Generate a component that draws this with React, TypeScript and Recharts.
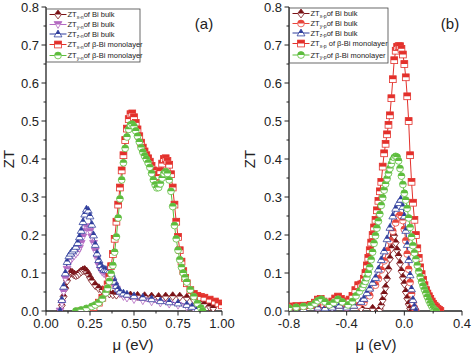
import React from 'react'
import { LineChart, Line, XAxis, YAxis } from 'recharts'

// ---- panel (a): n-type, mu > 0 ----
const aXnBulk: [number, number][] = [
  [0.08, 0], [0.09, 0.015], [0.1, 0.038], [0.11, 0.06], [0.12, 0.08], [0.13, 0.095], [0.14, 0.102],
  [0.15, 0.1], [0.16, 0.096], [0.17, 0.094], [0.18, 0.096], [0.19, 0.1], [0.2, 0.104], [0.21, 0.107],
  [0.22, 0.108], [0.23, 0.104], [0.24, 0.097], [0.25, 0.088], [0.26, 0.08], [0.28, 0.068], [0.3, 0.06],
  [0.32, 0.055], [0.34, 0.049], [0.36, 0.046], [0.38, 0.044], [0.4, 0.043], [0.44, 0.042], [0.48, 0.041],
  [0.52, 0.04], [0.56, 0.039], [0.6, 0.038], [0.64, 0.037], [0.68, 0.038], [0.72, 0.039], [0.76, 0.038],
  [0.8, 0.035], [0.84, 0.03], [0.87, 0.024], [0.9, 0.018], [0.93, 0.012], [0.95, 0.008],
]
const aYnBulk: [number, number][] = [
  [0.08, 0], [0.09, 0.02], [0.1, 0.05], [0.11, 0.085], [0.12, 0.11], [0.13, 0.125], [0.14, 0.135],
  [0.15, 0.14], [0.16, 0.145], [0.17, 0.15], [0.18, 0.155], [0.19, 0.165], [0.2, 0.178], [0.21, 0.195],
  [0.22, 0.21], [0.23, 0.222], [0.24, 0.22], [0.25, 0.21], [0.26, 0.195], [0.27, 0.178], [0.28, 0.158],
  [0.29, 0.138], [0.3, 0.12], [0.31, 0.108], [0.32, 0.102], [0.33, 0.098], [0.34, 0.095], [0.35, 0.092],
  [0.36, 0.088], [0.37, 0.082], [0.38, 0.074], [0.39, 0.066], [0.4, 0.058], [0.42, 0.045], [0.44, 0.038],
  [0.46, 0.034], [0.5, 0.03], [0.55, 0.027], [0.6, 0.024], [0.65, 0.021], [0.7, 0.018], [0.75, 0.015],
  [0.8, 0.011], [0.84, 0.006], [0.87, 0],
]
const aZnBulk: [number, number][] = [
  [0.08, 0], [0.09, 0.03], [0.1, 0.065], [0.11, 0.1], [0.12, 0.13], [0.13, 0.145], [0.14, 0.152],
  [0.15, 0.158], [0.16, 0.163], [0.17, 0.17], [0.18, 0.18], [0.19, 0.195], [0.2, 0.212], [0.21, 0.235],
  [0.22, 0.255], [0.23, 0.268], [0.24, 0.265], [0.25, 0.25], [0.26, 0.228], [0.27, 0.2], [0.28, 0.175],
  [0.29, 0.152], [0.3, 0.135], [0.31, 0.122], [0.32, 0.114], [0.33, 0.11], [0.34, 0.109], [0.35, 0.108],
  [0.36, 0.106], [0.37, 0.1], [0.38, 0.09], [0.39, 0.078], [0.4, 0.067], [0.41, 0.058], [0.42, 0.052],
  [0.44, 0.047], [0.46, 0.044], [0.5, 0.04], [0.55, 0.036], [0.6, 0.032], [0.65, 0.027], [0.7, 0.024],
  [0.75, 0.021], [0.8, 0.017], [0.83, 0.012], [0.86, 0.005], [0.88, 0],
]
const aXnMono: [number, number][] = [
  [0.2, 0], [0.24, 0.004], [0.27, 0.01], [0.3, 0.022], [0.32, 0.035], [0.34, 0.055], [0.35, 0.07],
  [0.36, 0.09], [0.37, 0.118], [0.38, 0.15], [0.39, 0.19], [0.4, 0.235], [0.41, 0.28], [0.42, 0.325],
  [0.43, 0.37], [0.44, 0.41], [0.45, 0.45], [0.46, 0.48], [0.47, 0.505], [0.48, 0.518], [0.49, 0.52],
  [0.5, 0.51], [0.51, 0.495], [0.52, 0.478], [0.53, 0.46], [0.54, 0.443], [0.55, 0.43], [0.56, 0.42],
  [0.57, 0.41], [0.58, 0.402], [0.59, 0.393], [0.6, 0.382], [0.61, 0.37], [0.62, 0.358], [0.63, 0.352],
  [0.64, 0.355], [0.65, 0.368], [0.66, 0.388], [0.67, 0.4], [0.68, 0.402], [0.69, 0.395], [0.7, 0.385],
  [0.71, 0.36], [0.72, 0.325], [0.73, 0.28], [0.74, 0.235], [0.75, 0.195], [0.76, 0.16], [0.77, 0.13],
  [0.78, 0.105], [0.79, 0.087], [0.8, 0.073], [0.82, 0.055], [0.84, 0.045], [0.86, 0.04], [0.88, 0.037],
  [0.9, 0.035], [0.93, 0.03], [0.96, 0.025], [0.98, 0.02], [1.0, 0.015],
]
const aYnMono: [number, number][] = [
  [0.17, 0], [0.2, 0.003], [0.23, 0.007], [0.26, 0.012], [0.28, 0.016], [0.3, 0.022], [0.32, 0.032],
  [0.34, 0.048], [0.35, 0.06], [0.36, 0.078], [0.37, 0.098], [0.38, 0.12], [0.39, 0.155], [0.4, 0.195],
  [0.41, 0.245], [0.42, 0.295], [0.43, 0.345], [0.44, 0.39], [0.45, 0.428], [0.46, 0.458], [0.47, 0.478],
  [0.48, 0.49], [0.49, 0.492], [0.5, 0.486], [0.51, 0.474], [0.52, 0.46], [0.53, 0.445], [0.54, 0.43],
  [0.55, 0.418], [0.56, 0.408], [0.57, 0.4], [0.58, 0.39], [0.59, 0.378], [0.6, 0.362], [0.61, 0.345],
  [0.62, 0.332], [0.63, 0.324], [0.64, 0.325], [0.65, 0.335], [0.66, 0.35], [0.67, 0.362], [0.68, 0.367],
  [0.69, 0.362], [0.7, 0.345], [0.71, 0.315], [0.72, 0.275], [0.73, 0.225], [0.74, 0.19], [0.75, 0.16],
  [0.76, 0.135], [0.77, 0.115], [0.78, 0.1], [0.79, 0.088], [0.8, 0.076], [0.82, 0.056], [0.84, 0.038],
  [0.86, 0.02], [0.88, 0.008], [0.89, 0],
]

// ---- panel (b): p-type, mu < 0 ----
const bXpBulk: [number, number][] = [
  [-0.8, 0.006], [-0.7, 0.007], [-0.6, 0.009], [-0.5, 0.008], [-0.4, 0.008], [-0.3, 0.008], [-0.22, 0.006],
  [-0.17, 0.005], [-0.16, 0.015], [-0.15, 0.029], [-0.14, 0.045], [-0.13, 0.062], [-0.12, 0.085],
  [-0.11, 0.11], [-0.1, 0.138], [-0.09, 0.165], [-0.08, 0.192], [-0.075, 0.2], [-0.07, 0.198],
  [-0.06, 0.18], [-0.05, 0.16], [-0.04, 0.145], [-0.03, 0.125], [-0.02, 0.105], [-0.01, 0.088],
  [0.0, 0.072], [0.01, 0.05], [0.02, 0.033], [0.03, 0.018], [0.04, 0.007], [0.05, 0],
]
const bYpBulk: [number, number][] = [
  [-0.8, 0.004], [-0.6, 0.008], [-0.4, 0.009], [-0.32, 0.014], [-0.28, 0.022], [-0.24, 0.04],
  [-0.2, 0.068], [-0.18, 0.085], [-0.16, 0.108], [-0.14, 0.132], [-0.12, 0.158], [-0.1, 0.185],
  [-0.08, 0.21], [-0.06, 0.232], [-0.04, 0.248], [-0.03, 0.252], [-0.02, 0.25], [-0.01, 0.238],
  [0.0, 0.215], [0.01, 0.185], [0.02, 0.15], [0.03, 0.11], [0.04, 0.075], [0.05, 0.045], [0.06, 0.022],
  [0.07, 0.008], [0.08, 0],
]
const bZpBulk: [number, number][] = [
  [-0.8, 0.005], [-0.7, 0.006], [-0.6, 0.01], [-0.55, 0.008], [-0.5, 0.01], [-0.45, 0.015], [-0.4, 0.01],
  [-0.35, 0.015], [-0.3, 0.025], [-0.28, 0.033], [-0.26, 0.048], [-0.24, 0.06], [-0.22, 0.075],
  [-0.2, 0.088], [-0.18, 0.11], [-0.16, 0.135], [-0.14, 0.158], [-0.12, 0.19], [-0.1, 0.22],
  [-0.08, 0.25], [-0.06, 0.27], [-0.04, 0.285], [-0.025, 0.294], [-0.01, 0.275], [0.0, 0.25],
  [0.01, 0.212], [0.02, 0.175], [0.03, 0.135], [0.04, 0.095], [0.05, 0.058], [0.06, 0.03], [0.07, 0.012],
  [0.08, 0],
]
const bXpMono: [number, number][] = [
  [-0.8, 0.012], [-0.75, 0.013], [-0.7, 0.014], [-0.65, 0.016], [-0.62, 0.022], [-0.6, 0.03], [-0.58, 0.032],
  [-0.56, 0.025], [-0.53, 0.02], [-0.5, 0.025], [-0.48, 0.033], [-0.46, 0.038], [-0.44, 0.032],
  [-0.42, 0.025], [-0.4, 0.025], [-0.38, 0.03], [-0.36, 0.04], [-0.34, 0.055], [-0.32, 0.068],
  [-0.3, 0.07], [-0.29, 0.072], [-0.28, 0.085], [-0.27, 0.1], [-0.26, 0.12], [-0.25, 0.14], [-0.24, 0.16],
  [-0.23, 0.18], [-0.22, 0.2], [-0.21, 0.22], [-0.2, 0.24], [-0.19, 0.265], [-0.18, 0.29], [-0.17, 0.315],
  [-0.16, 0.34], [-0.15, 0.38], [-0.14, 0.415], [-0.13, 0.44], [-0.12, 0.465], [-0.11, 0.49],
  [-0.1, 0.515], [-0.09, 0.56], [-0.08, 0.61], [-0.07, 0.66], [-0.06, 0.685], [-0.05, 0.695],
  [-0.04, 0.697], [-0.03, 0.697], [-0.02, 0.69], [-0.01, 0.675], [0.0, 0.65], [0.01, 0.615],
  [0.02, 0.565], [0.03, 0.5], [0.04, 0.41], [0.05, 0.34], [0.06, 0.285], [0.07, 0.24], [0.08, 0.2],
  [0.09, 0.165], [0.1, 0.14], [0.11, 0.115], [0.12, 0.097], [0.13, 0.082], [0.14, 0.068], [0.15, 0.055],
  [0.16, 0.046], [0.17, 0.039], [0.18, 0.032], [0.19, 0.025], [0.2, 0.019], [0.21, 0.014], [0.22, 0.01],
  [0.23, 0.006], [0.24, 0.003], [0.25, 0],
]
const bYpMono: [number, number][] = [
  [-0.8, 0.008], [-0.75, 0.01], [-0.7, 0.012], [-0.65, 0.014], [-0.62, 0.02], [-0.6, 0.027], [-0.575, 0.031],
  [-0.55, 0.024], [-0.52, 0.016], [-0.49, 0.022], [-0.46, 0.031], [-0.43, 0.024], [-0.39, 0.016],
  [-0.36, 0.025], [-0.335, 0.04], [-0.31, 0.052], [-0.29, 0.062], [-0.28, 0.07], [-0.27, 0.078],
  [-0.26, 0.088], [-0.25, 0.1], [-0.24, 0.115], [-0.23, 0.135], [-0.22, 0.155], [-0.21, 0.178],
  [-0.2, 0.198], [-0.19, 0.218], [-0.18, 0.236], [-0.17, 0.255], [-0.16, 0.278], [-0.15, 0.298],
  [-0.14, 0.318], [-0.13, 0.334], [-0.12, 0.348], [-0.11, 0.362], [-0.1, 0.375], [-0.09, 0.387],
  [-0.08, 0.397], [-0.07, 0.404], [-0.06, 0.407], [-0.05, 0.405], [-0.04, 0.395], [-0.03, 0.375],
  [-0.02, 0.355], [-0.01, 0.333], [0.0, 0.31], [0.01, 0.292], [0.02, 0.27], [0.03, 0.245], [0.04, 0.22],
  [0.05, 0.195], [0.06, 0.172], [0.07, 0.153], [0.08, 0.136], [0.09, 0.12], [0.1, 0.104], [0.11, 0.09],
  [0.12, 0.077], [0.13, 0.066], [0.14, 0.056], [0.15, 0.047], [0.16, 0.037], [0.17, 0.028], [0.18, 0.02],
  [0.19, 0.013], [0.2, 0.007], [0.21, 0.003], [0.22, 0],
]

// ---- axes ----
const yTicks = [0, 0.05, 0.1, 0.15, 0.2, 0.25, 0.3, 0.35, 0.4, 0.45, 0.5, 0.55, 0.6, 0.65, 0.7, 0.75, 0.8]
const yLabelTicks = [0, 0.1, 0.2, 0.3, 0.4, 0.5, 0.6, 0.7, 0.8]
const xTicksA = [0, 0.125, 0.25, 0.375, 0.5, 0.625, 0.75, 0.875, 1]
const xLabelTicksA = [0, 0.25, 0.5, 0.75, 1]
const xTicksB = [-0.8, -0.6, -0.4, -0.2, 0, 0.2, 0.4]
const xLabelTicksB = [-0.8, -0.4, 0, 0.4]

const legendSubsA = ['x-n', 'y-n', 'z-n', 'x-n', 'y-n']
const legendSubsB = ['x-p', 'y-p', 'z-p', 'x-p', 'y-p']
const legendTailsA = ['of Bi bulk', 'of Bi bulk', 'of Bi bulk', 'of \u03b2-Bi monolayer', 'of \u03b2-Bi monolayer']
const legendTailsB = ['of Bi bulk', 'of Bi bulk', 'of Bi bulk', ' of \u03b2-Bi monolayer', 'of \u03b2-Bi monolayer']

const FONT = '"Liberation Sans", Arial, sans-serif'
const INK = '#222'

const C = {
  darkRed: '#7a1216',
  violet: '#b46bc2',
  blue: '#2e3d9c',
  red: '#e3302b',
  redCircle: '#e8453c',
  green: '#5dbd3d',
}

type Shape = 'diamond' | 'tdown' | 'tup' | 'square' | 'circle'
type Series = { data: [number, number][]; color: string; shape: Shape }

const seriesA: Series[] = [
  { data: aXnBulk, color: C.darkRed, shape: 'diamond' },
  { data: aYnBulk, color: C.violet, shape: 'tdown' },
  { data: aZnBulk, color: C.blue, shape: 'tup' },
  { data: aXnMono, color: C.red, shape: 'square' },
  { data: aYnMono, color: C.green, shape: 'circle' },
]
const seriesB: Series[] = [
  { data: bXpBulk, color: C.darkRed, shape: 'diamond' },
  { data: bYpBulk, color: C.redCircle, shape: 'circle' },
  { data: bZpBulk, color: C.blue, shape: 'tup' },
  { data: bXpMono, color: C.red, shape: 'square' },
  { data: bYpMono, color: C.green, shape: 'circle' },
]

const toPts = (arr: [number, number][]) => arr.map(([x, y]) => ({ x, y }))

// half filled marker: coloured top, white bottom
function Marker({ cx, cy, shape, color, s }: { cx: number; cy: number; shape: Shape; color: string; s: number }) {
  const sw = 0.8
  if (shape === 'square') {
    return (
      <g>
        <rect x={cx - s} y={cy - s} width={2 * s} height={2 * s} fill="#fff" stroke={color} strokeWidth={sw} />
        <rect x={cx - s} y={cy - s} width={2 * s} height={s} fill={color} />
      </g>
    )
  }
  if (shape === 'circle') {
    return (
      <g>
        <circle cx={cx} cy={cy} r={s} fill="#fff" stroke={color} strokeWidth={sw} />
        <path d={`M${cx - s},${cy} A${s},${s} 0 0 1 ${cx + s},${cy} Z`} fill={color} />
      </g>
    )
  }
  if (shape === 'tup') {
    const a = 1.15 * s
    return (
      <g>
        <polygon points={`${cx},${cy - a} ${cx + a},${cy + 0.85 * s} ${cx - a},${cy + 0.85 * s}`} fill="#fff" stroke={color} strokeWidth={sw} />
        <polygon points={`${cx},${cy - a} ${cx + 0.66 * s},${cy} ${cx - 0.66 * s},${cy}`} fill={color} />
      </g>
    )
  }
  if (shape === 'tdown') {
    const a = 1.15 * s
    return (
      <g>
        <polygon points={`${cx - a},${cy - 0.85 * s} ${cx + a},${cy - 0.85 * s} ${cx},${cy + a}`} fill="#fff" stroke={color} strokeWidth={sw} />
        <polygon points={`${cx - a},${cy - 0.85 * s} ${cx + a},${cy - 0.85 * s} ${cx + 0.66 * s},${cy} ${cx - 0.66 * s},${cy}`} fill={color} />
      </g>
    )
  }
  const h = 1.3 * s
  return (
    <g>
      <polygon points={`${cx},${cy - h} ${cx + s},${cy} ${cx},${cy + h} ${cx - s},${cy}`} fill="#fff" stroke={color} strokeWidth={sw} />
      <polygon points={`${cx},${cy - h} ${cx + s},${cy} ${cx - s},${cy}`} fill={color} />
    </g>
  )
}

const makeDot = (shape: Shape, color: string) => (props: any) => {
  const { cx, cy, index } = props
  if (cx == null || cy == null) return <g key={index} />
  return <Marker key={index} cx={cx} cy={cy} shape={shape} color={color} s={3.4} />
}

const near = (list: number[], v: number) => list.some((t) => Math.abs(t - v) < 1e-6)

const YTick = (props: any) => {
  const { x, y, payload } = props
  const v = payload.value
  const major = near(yLabelTicks, v)
  return (
    <g>
      <line x1={x} x2={x - (major ? 4.5 : 2.5)} y1={y} y2={y} stroke={INK} strokeWidth={1} />
      {major && (
        <text x={x - 7} y={y} dy={4.6} textAnchor="end" fontSize={13} fontFamily={FONT} fill={INK}>
          {v.toFixed(1)}
        </text>
      )}
    </g>
  )
}

const makeXTick = (labels: number[], digits: number) => (props: any) => {
  const { x, y, payload } = props
  const v = payload.value
  const major = near(labels, v)
  return (
    <g>
      <line x1={x} x2={x} y1={y} y2={y + (major ? 4.5 : 2.5)} stroke={INK} strokeWidth={1} />
      {major && (
        <text x={x} y={y} dy={16.5} textAnchor="middle" fontSize={13} fontFamily={FONT} fill={INK}>
          {Math.abs(v) < 1e-9 ? (0).toFixed(digits) : v.toFixed(digits)}
        </text>
      )}
    </g>
  )
}

function Panel({
  width, yAxisWidth, marginRight, xDomain, xTicks, xTick, series,
}: {
  width: number; yAxisWidth: number; marginRight: number; xDomain: [number, number]
  xTicks: number[]; xTick: any; series: Series[]
}) {
  return (
    <LineChart width={width} height={354} margin={{ top: 7, right: marginRight, bottom: 0, left: 0 }}>
      <XAxis
        xAxisId={0} dataKey="x" type="number" domain={xDomain} ticks={xTicks} interval={0}
        allowDataOverflow height={43} tickSize={0} tickMargin={0} tickLine={false}
        tick={xTick} axisLine={{ stroke: INK, strokeWidth: 1.3 }}
      />
      <XAxis
        xAxisId="top" orientation="top" type="number" domain={xDomain} height={0}
        tick={false} tickLine={false} axisLine={{ stroke: INK, strokeWidth: 1.3 }}
      />
      <YAxis
        yAxisId={0} type="number" domain={[0, 0.8]} ticks={yTicks} interval={0} allowDataOverflow
        width={yAxisWidth} tickSize={0} tickMargin={0} tickLine={false} tick={YTick}
        axisLine={{ stroke: INK, strokeWidth: 1.3 }}
      />
      <YAxis
        yAxisId="right" orientation="right" type="number" domain={[0, 0.8]} width={0}
        tick={false} tickLine={false} axisLine={{ stroke: INK, strokeWidth: 1.3 }}
      />
      {series.map((s, i) => (
        <Line
          key={i} xAxisId={0} yAxisId={0} data={toPts(s.data)} dataKey="y" type="linear"
          stroke={s.color} strokeWidth={1} dot={makeDot(s.shape, s.color)} activeDot={false}
          isAnimationActive={false} connectNulls
        />
      ))}
    </LineChart>
  )
}

function LegendBox({ x, y, w, h, rows, subs, tails, series }: {
  x: number; y: number; w: number; h: number; rows: number[]; subs: string[]; tails: string[]
  series: Series[]
}) {
  return (
    <g>
      <rect x={x} y={y} width={w} height={h} fill="#fff" stroke="#444" strokeWidth={0.8} />
      {series.map((s, i) => (
        <g key={i}>
          <line x1={x + 3} x2={x + 20} y1={rows[i]} y2={rows[i]} stroke={s.color} strokeWidth={1} />
          <Marker cx={x + 11.5} cy={rows[i]} shape={s.shape} color={s.color} s={3.4} />
          <text x={x + 21} y={rows[i] + 2.8} fontSize={7.5} fontFamily={FONT} fill={INK}>
            ZT
            <tspan fontSize={5} dy={1.6}>{subs[i]}</tspan>
            <tspan fontSize={7.5} dy={-1.6}>{tails[i]}</tspan>
          </text>
        </g>
      ))}
    </g>
  )
}

export default function App() {
  return (
    <div style={{ position: 'absolute', left: 0, top: 0, width: 474, height: 354, background: '#fff' }}>
      <div style={{ position: 'absolute', left: 0, top: 0 }}>
        <Panel
          width={235} yAxisWidth={46} marginRight={13} xDomain={[0, 1]} xTicks={xTicksA}
          xTick={makeXTick(xLabelTicksA, 2)} series={seriesA}
        />
      </div>
      <div style={{ position: 'absolute', left: 240, top: 0 }}>
        <Panel
          width={234} yAxisWidth={49} marginRight={12} xDomain={[-0.8, 0.4]} xTicks={xTicksB}
          xTick={makeXTick(xLabelTicksB, 1)} series={seriesB}
        />
      </div>
      <svg width={474} height={354} style={{ position: 'absolute', left: 0, top: 0, pointerEvents: 'none' }}>
        <LegendBox x={46.5} y={9} w={93.5} h={53} rows={[14.5, 24.5, 34, 44.5, 55.5]} subs={legendSubsA} tails={legendTailsA} series={seriesA} />
        <LegendBox x={289.5} y={8} w={98.5} h={55} rows={[13.5, 23.5, 33, 43.5, 55]} subs={legendSubsB} tails={legendTailsB} series={seriesB} />
        <text x={204} y={29} textAnchor="middle" fontSize={15} fontFamily={FONT} fill={INK}>(a)</text>
        <text x={450} y={29} textAnchor="middle" fontSize={15} fontFamily={FONT} fill={INK}>(b)</text>
        <text transform="translate(13.5,159) rotate(-90)" textAnchor="middle" fontSize={15} fontFamily={FONT} fill={INK}>ZT</text>
        <text transform="translate(254.5,159) rotate(-90)" textAnchor="middle" fontSize={15} fontFamily={FONT} fill={INK}>ZT</text>
        <text x={133} y={350} textAnchor="middle" fontSize={15} fontFamily={FONT} fill={INK}>{'\u03bc (eV)'}</text>
        <text x={376} y={350} textAnchor="middle" fontSize={15} fontFamily={FONT} fill={INK}>{'\u03bc (eV)'}</text>
      </svg>
    </div>
  )
}
